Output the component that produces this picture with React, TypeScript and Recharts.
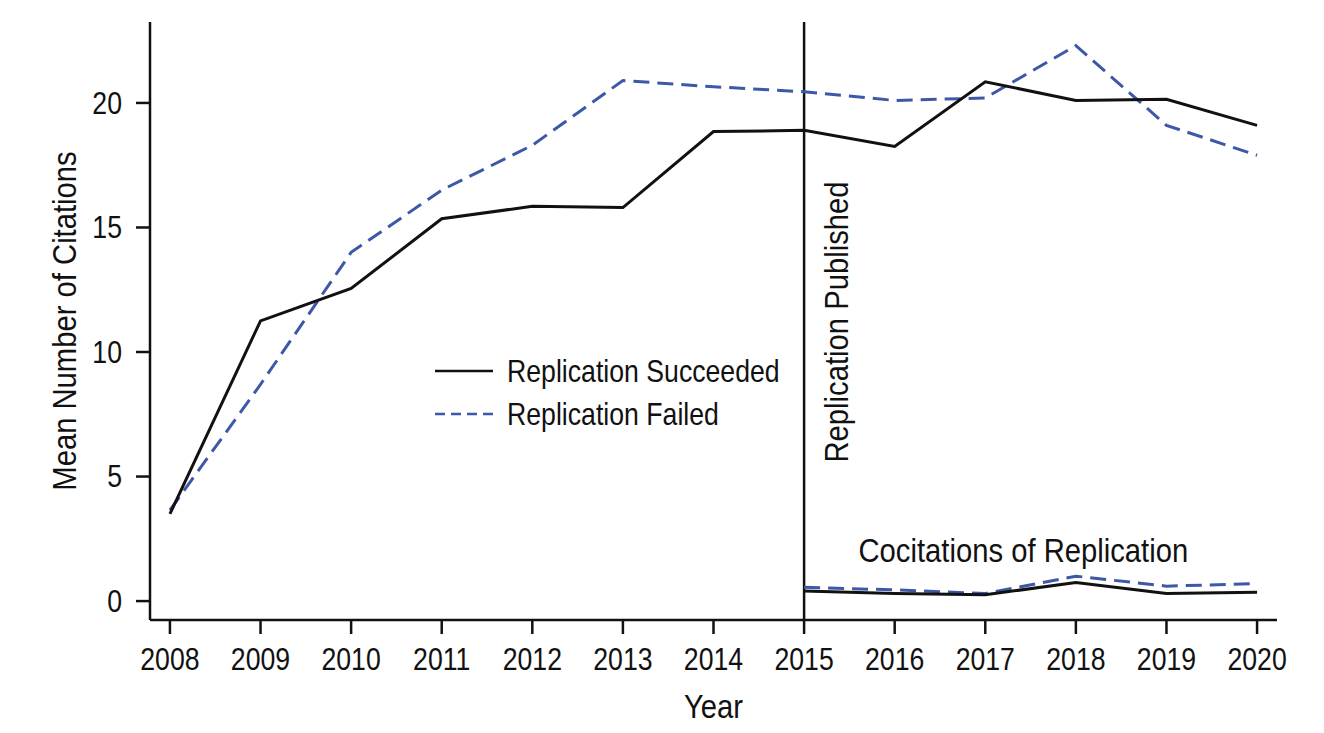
import React from 'react';
import {
  LineChart, Line, XAxis, YAxis, ReferenceLine, ReferenceDot, Legend,
} from 'recharts';

const years = [2008, 2009, 2010, 2011, 2012, 2013, 2014, 2015, 2016, 2017, 2018, 2019, 2020];
const succeeded = [3.5, 11.25, 12.55, 15.35, 15.85, 15.8, 18.85, 18.9, 18.25, 20.85, 20.1, 20.15, 19.1];
const failed = [3.65, 8.7, 14.0, 16.5, 18.3, 20.9, 20.65, 20.45, 20.1, 20.2, 22.3, 19.1, 17.9];
// cocitation counts only exist from the replication year onward
const cociteSucceeded = [null, null, null, null, null, null, null, 0.4, 0.3, 0.25, 0.75, 0.3, 0.35];
const cociteFailed = [null, null, null, null, null, null, null, 0.55, 0.45, 0.3, 1.0, 0.6, 0.7];
const yTicks = [0, 5, 10, 15, 20];

const replicationYear = 2015;

const data = years.map((year, i) => ({
  year,
  succeeded: succeeded[i],
  failed: failed[i],
  coSucceeded: cociteSucceeded[i],
  coFailed: cociteFailed[i],
}));

const FONT = '"Liberation Sans", Arial, sans-serif';
const FONT_SIZE = 31;
const TITLE_SIZE = 34;
const SQUEEZE = 0.86; // fake a condensed face
const BLUE = '#3d58a7';
const BLACK = '#111';
const DASH = '16 8';

// horizontally condensed text, optionally rotated about its anchor
const CondText = ({ x, y, anchor = 'middle', baseline = 'central', rotate = 0, size = FONT_SIZE, children }: any) => (
  <text x={0} y={0} textAnchor={anchor} dominantBaseline={baseline} fontFamily={FONT}
    fontSize={size} fill={BLACK}
    transform={`translate(${x}, ${y}) rotate(${rotate}) scale(${SQUEEZE}, 1)`}>
    {children}
  </text>
);

const legendItems = [
  { label: 'Replication Succeeded', color: BLACK, dash: undefined as string | undefined },
  { label: 'Replication Failed', color: BLUE, dash: '10 6' },
];

const renderLegend = () => (
  <svg width={360} height={90} style={{ overflow: 'visible', display: 'block' }}>
    {legendItems.map((item, i) => (
      <g key={item.label} transform={`translate(0, ${i * 43 + 21})`}>
        <line x1={0} x2={58} y1={0} y2={0} stroke={item.color} strokeWidth={2.5}
          strokeDasharray={item.dash} />
        <CondText x={72} y={0} anchor="start">{item.label}</CondText>
      </g>
    ))}
  </svg>
);

const XTick = ({ x, y, payload }: any) => (
  <CondText x={x} y={y} baseline="hanging">{payload.value}</CondText>
);

const YTick = ({ x, y, payload }: any) => (
  <CondText x={x} y={y} anchor="end">{payload.value}</CondText>
);

const YLabel = ({ viewBox }: any) => (
  <CondText x={viewBox.x + 64} y={viewBox.y + viewBox.height / 2} rotate={-90} size={TITLE_SIZE}>
    Mean Number of Citations
  </CondText>
);

const XLabel = ({ viewBox }: any) => (
  <CondText x={viewBox.x + viewBox.width / 2} y={viewBox.y + 86} size={TITLE_SIZE}>Year</CondText>
);

const PublishedLabel = ({ viewBox }: any) => (
  <CondText x={viewBox.x + 32} y={322} rotate={-90} size={TITLE_SIZE}>Replication Published</CondText>
);

const CociteLabel = ({ viewBox }: any) => (
  <CondText x={viewBox.x + viewBox.width / 2} y={viewBox.y + viewBox.height / 2} size={TITLE_SIZE}>
    Cocitations of Replication
  </CondText>
);

export default function App() {
  const axisStroke = { stroke: BLACK, strokeWidth: 2.5 };
  return (
    <div style={{ position: 'absolute', left: 0, top: 0, background: '#fff' }}>
      <LineChart width={1324} height={733} data={data}
        margin={{ top: 22, right: 47, left: 0, bottom: 0 }}>
        <XAxis dataKey="year" type="number" domain={[2007.78, 2020.22]} ticks={years}
          allowDataOverflow height={113} tick={<XTick />} tickSize={14} tickMargin={14}
          axisLine={axisStroke} tickLine={axisStroke} label={<XLabel />} />
        <XAxis xAxisId="top" orientation="top" dataKey="year" type="number"
          domain={[2007.78, 2020.22]} height={0} tick={false} tickLine={false}
          axisLine={{ stroke: BLACK, strokeWidth: 2 }} />
        <YAxis type="number" domain={[-0.76, 23.25]} ticks={yTicks} allowDataOverflow width={150}
          tick={<YTick />} tickSize={14} tickMargin={14}
          axisLine={axisStroke} tickLine={axisStroke} label={<YLabel />} />
        <YAxis yAxisId="right" orientation="right" domain={[-0.76, 23.25]} width={0} tick={false}
          tickLine={false} axisLine={{ stroke: BLACK, strokeWidth: 2 }} />
        <ReferenceLine x={replicationYear} stroke={BLACK} strokeWidth={2.5}
          label={<PublishedLabel />} />
        <ReferenceDot x={2017.42} y={2.05} r={0} stroke="none" fill="none"
          label={<CociteLabel />} />
        <Legend content={renderLegend} layout="vertical" align="center" verticalAlign="middle"
          wrapperStyle={{ left: 435, top: 350, width: 360, height: 90 }} />
        <Line dataKey="failed" stroke={BLUE} strokeWidth={3} strokeDasharray={DASH}
          dot={false} isAnimationActive={false} />
        <Line dataKey="succeeded" stroke={BLACK} strokeWidth={3} dot={false}
          isAnimationActive={false} />
        <Line dataKey="coFailed" stroke={BLUE} strokeWidth={3} strokeDasharray={DASH}
          dot={false} isAnimationActive={false} />
        <Line dataKey="coSucceeded" stroke={BLACK} strokeWidth={3} dot={false}
          isAnimationActive={false} />
      </LineChart>
    </div>
  );
}
